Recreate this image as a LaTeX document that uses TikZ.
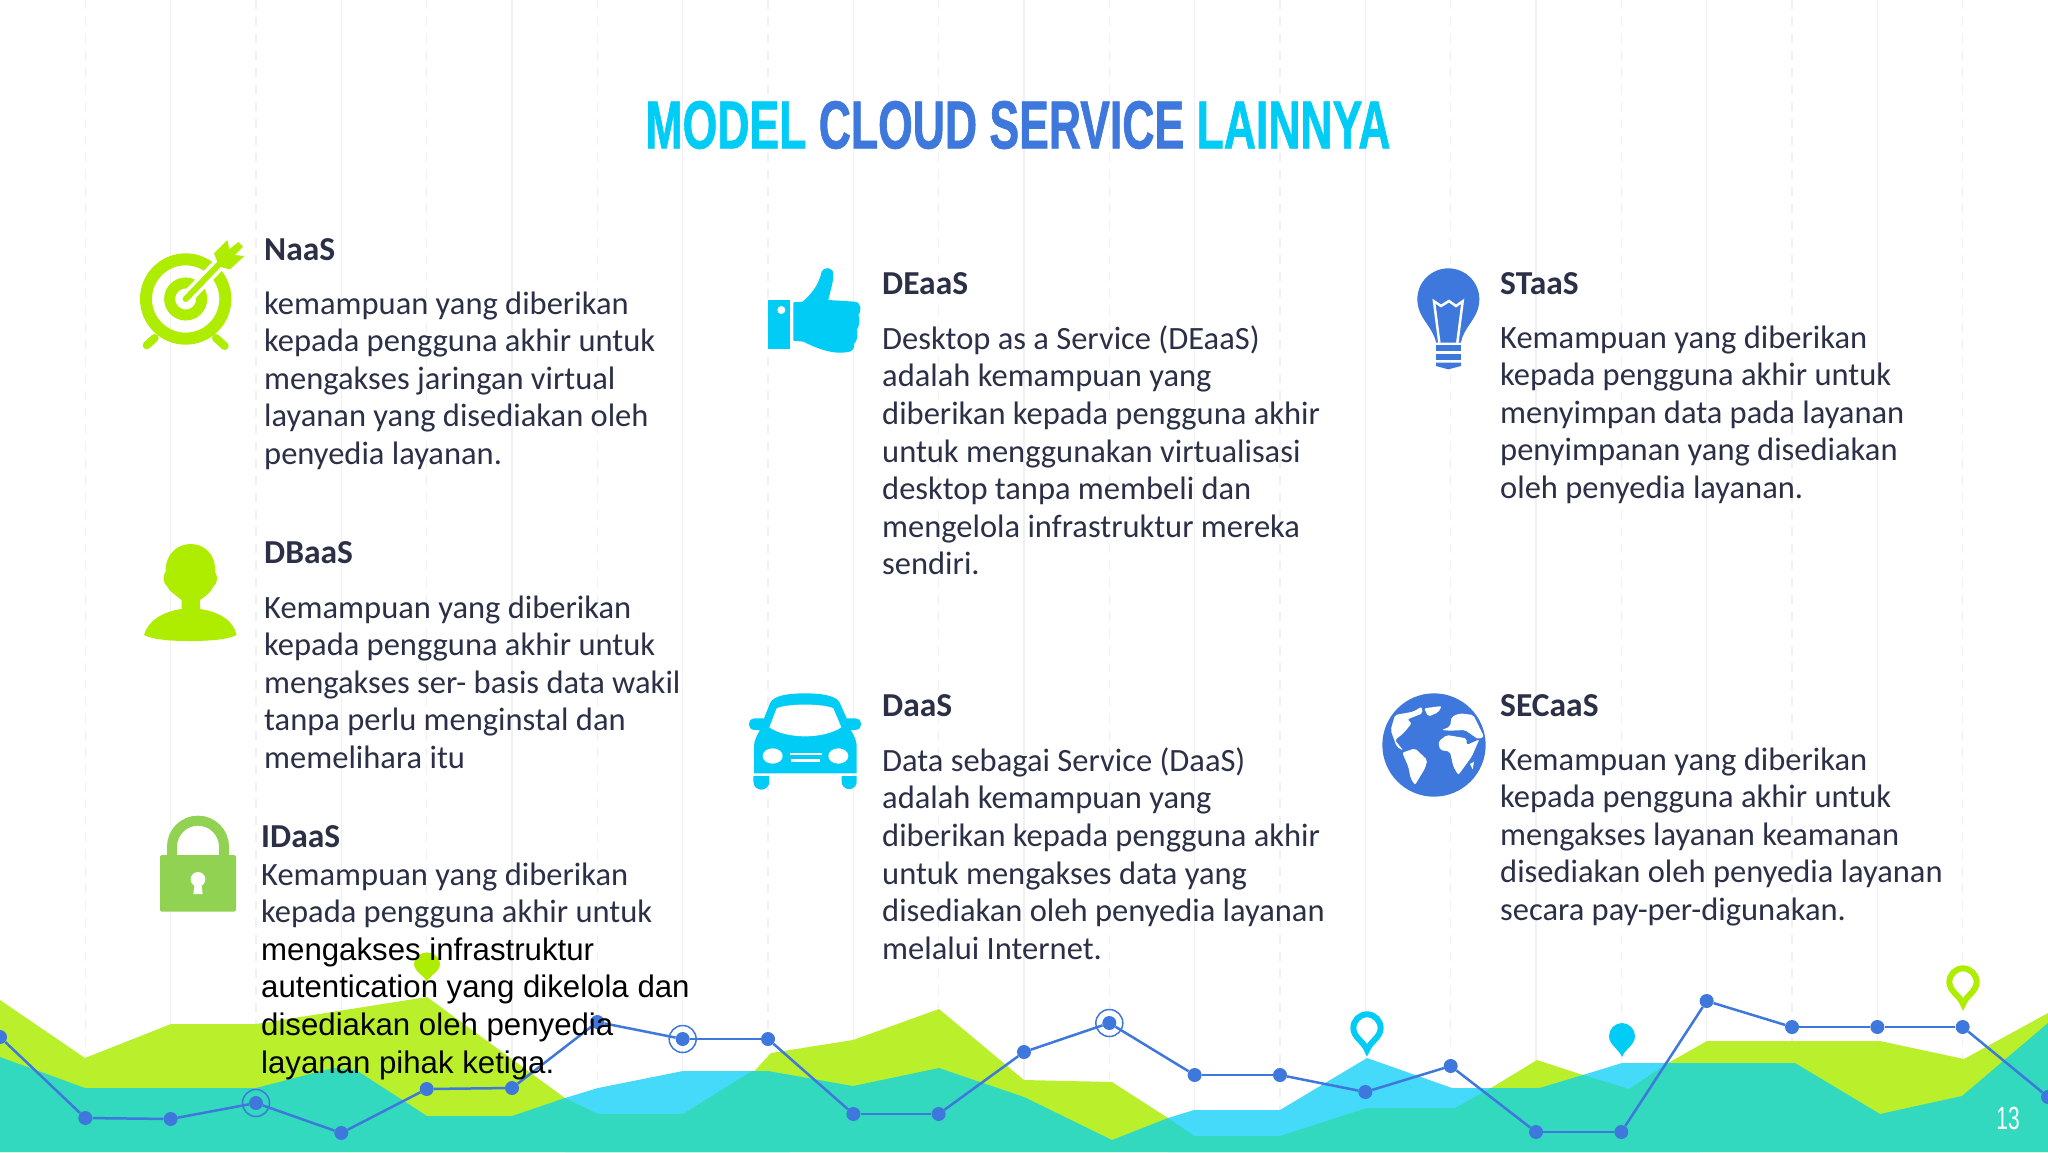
\documentclass[tikz,border=0pt]{standalone}
\usepackage{fontspec}
\usepackage{xcolor}
\usetikzlibrary{positioning}
\setmainfont{Carlito}
\newfontfamily\titlefont[FakeStretch=0.655,BoldFeatures={FakeBold=0.9}]{Liberation Sans}
\newfontfamily\arialfont{Liberation Sans}
\definecolor{inkdark}{HTML}{2B3047}
\definecolor{skycyan}{HTML}{00CCF5}
\definecolor{royal}{HTML}{3F78DC}
\definecolor{lime}{HTML}{AEEC00}
\definecolor{lockgreen}{HTML}{92D253}
\definecolor{hillgreen}{HTML}{B9F02B}
\definecolor{hillcyan}{HTML}{45D9FA}
\definecolor{hillteal}{HTML}{33D9BE}
\definecolor{gridgrey}{HTML}{F0F0F3}
\tikzset{
  headtext/.style={anchor=west,inner sep=0pt,text=inkdark,font=\fontsize{33.5}{37.6}\selectfont\bfseries},
  bodytext/.style={anchor=north west,inner sep=0pt,align=left,text=inkdark,font=\fontsize{32.5}{37.6}\selectfont},
  linedot/.style={circle,fill=royal,inner sep=0pt,minimum size=14pt},
  dotring/.style={circle,draw=royal,line width=1.5pt,inner sep=0pt,minimum size=27pt},
  lineblue/.style={draw=royal,line width=2.5pt},
  pinmark/.pic={\path[pic actions] (0,0) .. controls (-3,-8) and (-13,-12) .. (-13,-21) .. controls (-13,-28) and (-7,-34) .. (0,-34) .. controls (7,-34) and (13,-28) .. (13,-21) .. controls (13,-12) and (3,-8) .. (0,0) -- cycle;}
}
\begin{document}
\begin{tikzpicture}[x=1pt,y=-1pt]
  \useasboundingbox (0,0) rectangle (2048,1152);
  \fill[white] (0,0) rectangle (2048,1152);
  % grid
  \foreach \k in {2,4,...,22}
    \draw[gridgrey,line width=1.6pt] ({\k*85.333},0) -- ({\k*85.333},1152);
  \foreach \k in {1,3,...,23}
    \draw[gridgrey,line width=1.6pt,dash pattern=on 9pt off 8pt] ({\k*85.333},0) -- ({\k*85.333},1152);
  % hills
  \fill[hillgreen] (0,1152) -- (0,1000) -- (85,1058) -- (171,1024) -- (256,1024) -- (427,997) -- (565,1098) -- (600,1130) -- (700,1130) -- (771,1053) -- (853,1040) -- (939,1009) -- (1024,1080) -- (1112,1082) -- (1168,1118) -- (1200,1140) -- (1450,1140) -- (1491,1088) -- (1537,1060) -- (1583,1075) -- (1620,1090) -- (1668,1063) -- (1707,1041) -- (1880,1041) -- (1964,1059) -- (2048,1013) -- (2048,1152) -- cycle;
  \fill[hillcyan] (565,1098) -- (598,1088) -- (683,1071) -- (768,1071) -- (790,1152) -- (565,1152) -- cycle;
  \fill[hillcyan] (1168,1118) -- (1194,1110) -- (1280,1110) -- (1367,1058) -- (1452,1088) -- (1491,1088) -- (1540,1088) -- (1583,1075) -- (1622,1063) -- (1668,1063) -- (1700,1152) -- (1168,1152) -- cycle;
  \fill[hillteal] (0,1152) -- (0,1057) -- (85,1088) -- (256,1088) -- (333,1068) -- (356,1070) -- (427,1116) -- (512,1116) -- (565,1098) -- (598,1114) -- (683,1114) -- (752,1071) -- (768,1071) -- (853,1086) -- (939,1068) -- (1024,1097) -- (1112,1140) -- (1168,1118) -- (1194,1136) -- (1280,1136) -- (1367,1108) -- (1455,1108) -- (1491,1088) -- (1540,1088) -- (1583,1075) -- (1629,1089) -- (1668,1063) -- (1795,1063) -- (1880,1114) -- (1962,1096) -- (2048,1023) -- (2048,1152) -- cycle;
  % line with dots
  \foreach \i/\ypos in {0/1037,1/1118,2/1119,3/1103,4/1133,5/1089,6/1088,7/1022,8/1039,9/1039,10/1114,11/1114,12/1052,13/1023,14/1075,15/1075,16/1092,17/1066,18/1132,19/1132,20/1001,21/1027,22/1027,23/1027,24/1097}
    \node[linedot] (p\i) at ({\i*85.333},\ypos) {};
  \foreach \i [remember=\i as \j (initially 0)] in {1,...,24}
    \draw[lineblue] (p\j) -- (p\i);
  \node[dotring] (ring_a) at (p3) {};
  \node[dotring] (ring_b) at (p8) {};
  \node[dotring] (ring_c) at (p13) {};
  % pins
  \pic[fill=lime,yscale=0.87] at (427,982) {pinmark};
  \pic[draw=skycyan,fill=white,line width=6pt,scale=1.05] at (1367,1050) {pinmark};
  \pic[fill=skycyan] at (1622,1057) {pinmark};
  \pic[draw=lime,fill=white,line width=6pt,scale=1.05] at (1963,1004) {pinmark};
  % target
  \begin{scope}[shift={(120,220)},scale=1/3]
    \draw[lime,line width=12pt] (197,237) circle (119);
    \draw[lime,line width=11pt] (197,237) circle (48);
    \draw[white,line width=13pt] (197,237) -- (300,130);
    \draw[lime,line width=6pt,line cap=round] (197,237) -- (300,130);
    \fill[lime] (282,100) -- (322,60) -- (328,88) -- (355,66) -- (369,80) -- (345,105) -- (373,108) -- (330,148) -- (298,140) -- cycle;
    \draw[lime,line width=8pt,line cap=round] (80,376) -- (104,354);
    \draw[lime,line width=8pt,line cap=round] (288,354) -- (314,378);
  \end{scope}
  % person
  \begin{scope}[shift={(130,530)},scale=1/3]
    \fill[lime] (155,210) .. controls (135,195) and (115,180) .. (112,170) .. controls (98,160) and (98,135) .. (107,125) .. controls (105,70) and (145,42) .. (182,42) .. controls (225,42) and (258,75) .. (255,125) .. controls (265,140) and (262,160) .. (250,170) .. controls (245,185) and (225,200) .. (210,210) -- (210,237) .. controls (265,245) and (310,270) .. (320,315) .. controls (290,330) and (230,333) .. (180,333) .. controls (130,333) and (70,330) .. (42,315) .. controls (55,270) and (100,245) .. (155,237) -- cycle;
  \end{scope}
  % lock
  \begin{scope}[shift={(130,530)},scale=1/3]
    \draw[lockgreen,line width=10pt] (126,980) -- (126,950) arc[start angle=180,end angle=360,radius=78] -- (282,980);
    \fill[lockgreen,rounded corners=1.5pt] (90,975) rectangle (318,1145);
    \fill[white] (204,1048) circle (22);
    \fill[white] (195,1055) -- (213,1055) -- (218,1092) -- (190,1092) -- cycle;
  \end{scope}
  % thumb
  \begin{scope}[shift={(740,250)},scale=1/3]
    \fill[skycyan] (85,150) rectangle (150,297);
    \fill[white] (124,180) circle (12);
    \fill[skycyan] (160,157) -- (188,155) .. controls (210,135) and (235,110) .. (245,65) .. controls (250,50) and (280,50) .. (280,72) .. controls (280,100) and (270,125) .. (265,150) -- (345,155) .. controls (365,158) and (365,185) .. (355,195) .. controls (362,205) and (358,230) .. (350,240) .. controls (355,250) and (352,275) .. (342,282) .. controls (345,295) and (335,305) .. (325,306) .. controls (280,315) and (230,295) .. (190,275) -- (160,272) -- cycle;
  \end{scope}
  % car
  \begin{scope}[shift={(740,680)},scale=1/3]
    \fill[skycyan] (72,115) -- (90,70) .. controls (100,45) and (150,40) .. (195,40) .. controls (240,40) and (290,45) .. (300,70) -- (320,115) -- (345,115) .. controls (370,115) and (370,150) .. (345,150) -- (332,150) .. controls (345,170) and (350,185) .. (350,200) -- (350,280) -- (42,280) -- (42,200) .. controls (42,185) and (48,170) .. (60,150) -- (45,150) .. controls (20,150) and (20,115) .. (45,115) -- cycle;
    \fill[white] (110,85) .. controls (140,70) and (250,70) .. (280,85) -- (304,142) .. controls (250,178) and (140,178) .. (88,142) -- cycle;
    \fill[white] (98,228) ellipse [x radius=30,y radius=23];
    \fill[white] (295,228) ellipse [x radius=30,y radius=23];
    \fill[white] (150,218) rectangle (245,226);
    \fill[white] (152,237) rectangle (240,245);
    \fill[skycyan] (40,288) -- (88,288) -- (88,305) arc[start angle=0,end angle=180,radius=24] -- cycle;
    \fill[skycyan] (305,288) -- (350,288) -- (350,305) arc[start angle=0,end angle=180,radius=22.5] -- cycle;
  \end{scope}
  % bulb
  \begin{scope}[shift={(1400,260)},scale=1/3]
    \fill[royal] (108,248) .. controls (100,200) and (52,175) .. (52,118) .. controls (52,65) and (95,25) .. (145,25) .. controls (195,25) and (238,65) .. (238,118) .. controls (238,175) and (190,200) .. (183,248) -- cycle;
    \draw[white,line width=2.5pt] (118,248) -- (102,124) -- (123,138) -- (147,123) -- (168,138) -- (188,124) -- (172,248);
    \fill[royal] (108,255) rectangle (183,272);
    \fill[royal] (108,282) rectangle (183,300);
    \fill[royal] (108,308) -- (183,308) -- (183,318) -- (145,328) -- (108,318) -- cycle;
  \end{scope}
  % globe
  \begin{scope}[shift={(1370,680)},scale=1/3]
    \fill[royal] (192,195) circle (155);
    \begin{scope}[rounded corners=2pt]
      \fill[white] (62,150) -- (75,105) -- (130,95) -- (155,80) -- (158,100) -- (112,118) -- (125,130) -- (100,160) -- (75,180) -- (100,212) -- (80,200) -- cycle;
      \fill[white] (162,85) -- (215,78) -- (205,97) -- (175,110) -- cycle;
      \fill[white] (97,218) -- (135,205) -- (172,240) -- (165,265) -- (135,315) -- (122,295) -- (115,260) -- cycle;
      \fill[white] (205,185) -- (230,165) -- (290,175) -- (290,195) -- (328,178) -- (305,230) -- (265,285) -- (250,260) -- (240,215) -- (210,210) -- cycle;
      \fill[white] (215,150) -- (240,140) -- (245,110) -- (270,100) -- (310,105) -- (342,170) -- (325,178) -- (285,150) -- (240,152) -- cycle;
    \end{scope}
    \fill[white] (300,252) -- (312,245) -- (308,268) -- cycle;
  \end{scope}
  % title and page number
  \node[inner sep=0pt,font=\titlefont\fontsize{68}{70}\selectfont\bfseries] (title) at (1018,125) {\textcolor{skycyan}{MODEL} \textcolor{royal}{CLOUD SERVICE} \textcolor{skycyan}{LAINNYA}};
  \node[inner sep=0pt,text=white,font=\titlefont\fontsize{32}{32}\selectfont] (pagenum) at (2008,1118) {13};
  % left column
  \node[headtext] (naas_h) at (264,250) {NaaS};
  \node[bodytext,below=30pt of naas_h.south west,anchor=north west] (naas_b) {kemampuan yang diberikan\\kepada pengguna akhir untuk\\mengakses jaringan virtual\\layanan yang disediakan oleh\\penyedia layanan.};
  \node[headtext] (dbaas_h) at (264,553) {DBaaS};
  \node[bodytext,below=31pt of dbaas_h.south west,anchor=north west] (dbaas_b) {Kemampuan yang diberikan\\kepada pengguna akhir untuk\\mengakses ser- basis data wakil\\tanpa perlu menginstal dan\\memelihara itu};
  \node[headtext] (idaas_h) at (261,837) {IDaaS};
  \node[bodytext,below=14pt of idaas_h.south west,anchor=north west] (idaas_b) {Kemampuan yang diberikan\\kepada pengguna akhir untuk\\{\color{black}\arialfont\fontsize{31.2}{37.6}\selectfont mengakses infrastruktur}\\{\color{black}\arialfont\fontsize{31.2}{37.6}\selectfont autentication yang dikelola dan}\\{\color{black}\arialfont\fontsize{31.2}{37.6}\selectfont disediakan oleh penyedia}\\{\color{black}\arialfont\fontsize{31.2}{37.6}\selectfont layanan pihak ketiga.}};
  % middle column
  \node[headtext] (deaas_h) at (882,284) {DEaaS};
  \node[bodytext,below=30pt of deaas_h.south west,anchor=north west] (deaas_b) {Desktop as a Service (DEaaS)\\adalah kemampuan yang\\diberikan kepada pengguna akhir\\untuk menggunakan virtualisasi\\desktop tanpa membeli dan\\mengelola infrastruktur mereka\\sendiri.};
  \node[headtext] (daas_h) at (882,706) {DaaS};
  \node[bodytext,below=30pt of daas_h.south west,anchor=north west] (daas_b) {Data sebagai Service (DaaS)\\adalah kemampuan yang\\diberikan kepada pengguna akhir\\untuk mengakses data yang\\disediakan oleh penyedia layanan\\melalui Internet.};
  % right column
  \node[headtext] (staas_h) at (1500,284) {STaaS};
  \node[bodytext,below=30pt of staas_h.south west,anchor=north west] (staas_b) {Kemampuan yang diberikan\\kepada pengguna akhir untuk\\menyimpan data pada layanan\\penyimpanan yang disediakan\\oleh penyedia layanan.};
  \node[headtext] (secaas_h) at (1500,706) {SECaaS};
  \node[bodytext,below=30pt of secaas_h.south west,anchor=north west] (secaas_b) {Kemampuan yang diberikan\\kepada pengguna akhir untuk\\mengakses layanan keamanan\\disediakan oleh penyedia layanan\\secara pay-per-digunakan.};
\end{tikzpicture}
\end{document}
